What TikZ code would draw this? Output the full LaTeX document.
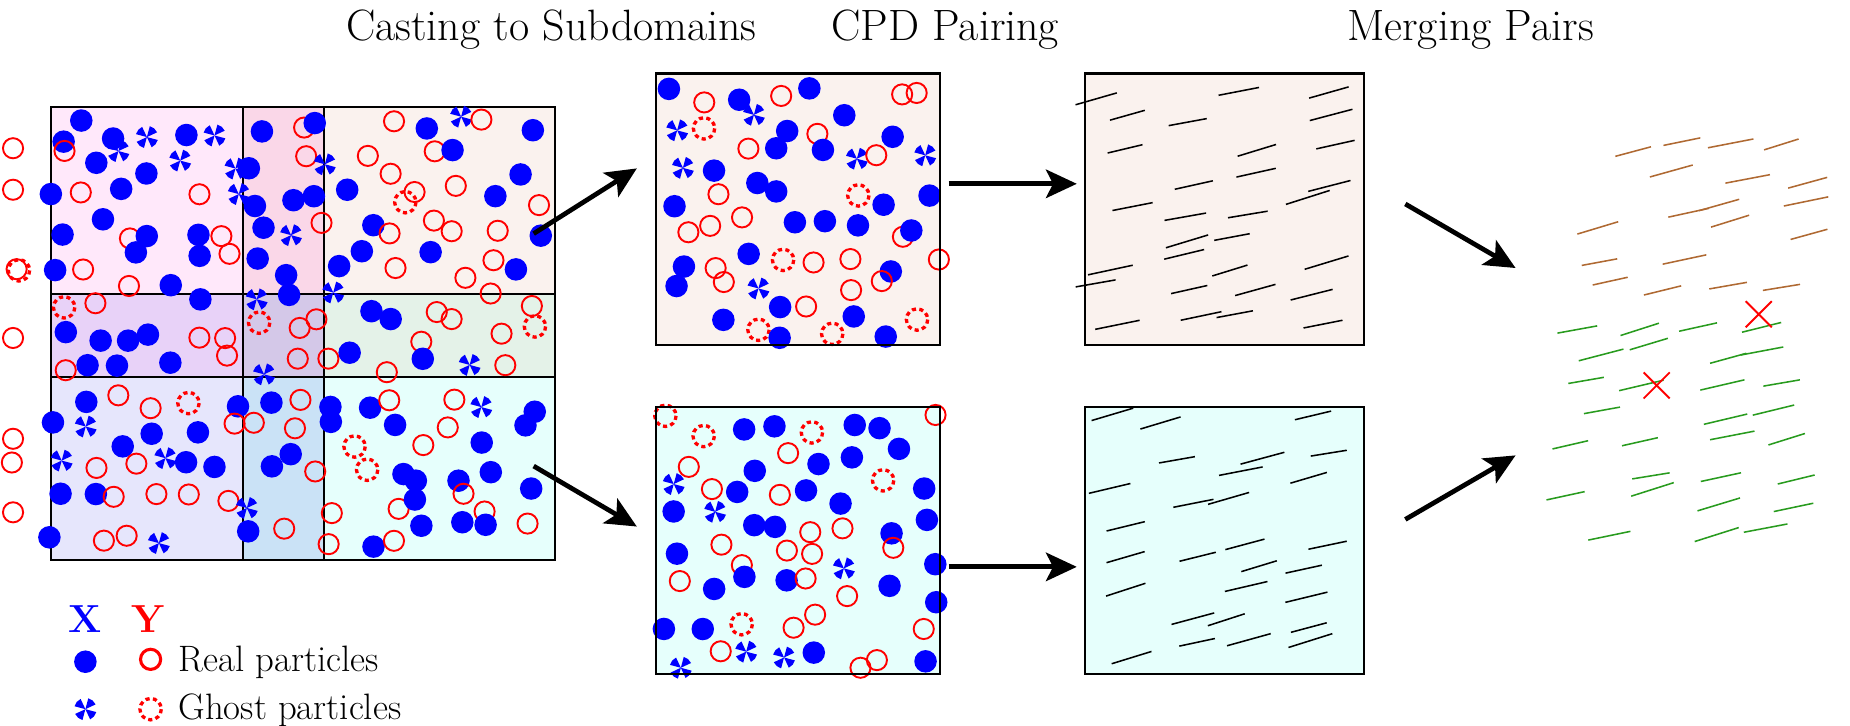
\documentclass[tikz,border=0pt]{standalone}
\usetikzlibrary{arrows.meta}
\definecolor{cA}{RGB}{255,232,250}
\definecolor{cB}{RGB}{250,215,232}
\definecolor{cC}{RGB}{250,242,238}
\definecolor{cD}{RGB}{232,210,248}
\definecolor{cE}{RGB}{212,200,232}
\definecolor{cF}{RGB}{228,242,232}
\definecolor{cG}{RGB}{230,230,252}
\definecolor{cH}{RGB}{202,226,246}
\definecolor{cI}{RGB}{230,255,252}
\definecolor{brn}{RGB}{175,105,50}
\definecolor{grn}{RGB}{40,155,30}
\newcommand\pRX[2]{\fill[blue] (#1,#2) circle (9.5);}
\newcommand\pRY[2]{\draw[red,line width=1.6] (#1,#2) circle (8.5);}
\newcommand\pGY[2]{\draw[red,line width=2.8,dash pattern=on 3.5 off 2.8] (#1,#2) circle (9);}
\newcommand\pGX[2]{\foreach \a in {0,90,180,270}{\fill[blue] (#1,#2) -- ++(\a+15:9.5) arc (\a+15:\a+65:9.5) -- cycle;}}
% jittered grid of particles: x0 nx dx y0 ny dy
\newcommand\pgrid[6]{%
  \foreach \i in {1,...,#2}{\foreach \j in {1,...,#5}{%
    \pgfmathsetmacro\px{#1+(\i-0.5)*#3+(rnd-0.5)*#3*0.8}%
    \pgfmathsetmacro\py{#4+(\j-0.5)*#6+(rnd-0.5)*#6*0.8}%
    \pgfmathsetmacro\t{rnd}%
    \ifdim\t pt<0.36pt \pRX{\px}{\py}\else
    \ifdim\t pt<0.76pt \pRY{\px}{\py}\else
    \ifdim\t pt<0.84pt \pGX{\px}{\py}\else
    \ifdim\t pt<0.91pt \pGY{\px}{\py}\fi\fi\fi\fi}}}
% jittered grid of segments: x0 nx dx y0 ny dy color
\newcommand\sgrid[7]{%
  \foreach \i in {1,...,#2}{\foreach \j in {1,...,#5}{%
    \pgfmathsetmacro\px{#1+(\i-1)*#3+(rnd-0.5)*#3*0.7}%
    \pgfmathsetmacro\py{#4+(\j-0.5)*#6+(rnd-0.5)*#6*0.7}%
    \pgfmathsetmacro\ang{-9-rnd*9}\pgfmathsetmacro\len{30+rnd*9}%
    \pgfmathsetmacro\t{rnd}%
    \ifdim\t pt<0.85pt \draw[#7,line width=1.3] (\px,\py) -- ++(\ang:\len);\fi}}}
\tikzset{boxline/.style={draw=black,line width=1.8},
 bigarrow/.style={line width=4,-{Stealth[length=26,width=24,inset=6]}},
 title/.style={font=\fontsize{37}{42}\selectfont,anchor=base},
 legend/.style={font=\fontsize{31}{36}\selectfont,anchor=base west}}
\begin{document}
\begin{tikzpicture}[x=1pt,y=-1pt]
\useasboundingbox (0,0) rectangle (1560,612);
\pgfmathsetseed{11}
% titles
\node[title] (t1) at (465,34) {Casting to Subdomains};
\node[title] (t2) at (797,34) {CPD Pairing};
\node[title] (t3) at (1240,34) {Merging Pairs};
% left grid fills
\fill[cA] (43,90) rectangle (205,248);
\fill[cB] (205,90) rectangle (273,248);
\fill[cC] (273,90) rectangle (468,248);
\fill[cD] (43,248) rectangle (205,318);
\fill[cE] (205,248) rectangle (273,318);
\fill[cF] (273,248) rectangle (468,318);
\fill[cG] (43,318) rectangle (205,472);
\fill[cH] (205,318) rectangle (273,472);
\fill[cI] (273,318) rectangle (468,472);
\draw[boxline] (43,90) rectangle (468,472);
\draw[boxline] (205,90) -- (205,472) (273,90) -- (273,472) (43,248) -- (468,248) (43,318) -- (468,318);
\pgrid{36}{15}{28.2}{95}{13}{28.5}
\foreach \yy in {125,160,285,370,432}{\pRY{11}{\yy}}
\pRY{10}{390}\pRY{14}{227}\pGY{16}{228}
% middle boxes
\fill[cC] (553,62) rectangle (793,291);
\fill[cI] (553,343) rectangle (793,568);
\pgrid{555}{8}{30}{66}{8}{28}
\pgrid{555}{8}{30}{346}{8}{27.5}
\draw[boxline] (553,62) rectangle (793,291);
\draw[boxline] (553,343) rectangle (793,568);
% CPD boxes
\fill[cC] (915,62) rectangle (1150,291);
\fill[cI] (915,343) rectangle (1150,568);
\sgrid{925}{4}{56}{70}{9}{24}{black}
\sgrid{925}{4}{56}{348}{9}{24}{black}
\draw[boxline] (915,62) rectangle (1150,291);
\draw[boxline] (915,343) rectangle (1150,568);
% merged
\sgrid{1345}{4}{52}{115}{6}{24}{brn}
\sgrid{1322}{4}{54}{262}{8}{25}{grn}
\foreach \c in {(1483,265),(1397,325)}{\draw[red,line width=1.6] \c ++(-11,-11) -- ++(22,22) \c ++(-11,11) -- ++(22,-22);}
% arrows
\coordinate (a1) at (450,197); \coordinate (b1) at (537,142);
\coordinate (a2) at (450,393); \coordinate (b2) at (537,444);
\coordinate (a3) at (800,155); \coordinate (b3) at (908,155);
\coordinate (a4) at (800,478); \coordinate (b4) at (908,478);
\coordinate (a5) at (1185,172); \coordinate (b5) at (1278,226);
\coordinate (a6) at (1185,438); \coordinate (b6) at (1278,384);
\foreach \s/\e in {a1/b1,a2/b2,a3/b3,a4/b4,a5/b5,a6/b6}{\draw[bigarrow] (\s) -- (\e);}
% legend
\node[font=\fontsize{33}{36}\selectfont\bfseries,text=blue] (lx) at (72,522) {X};
\node[font=\fontsize{33}{36}\selectfont\bfseries,text=red] (ly) at (125,522) {Y};
\pRX{72}{558}\draw[red,line width=2.6] (127,556) circle (8.5);
\pGX{72}{598}\pGY{127}{598}
\node[legend] (l1) at (147,566) {Real particles};
\node[legend] (l2) at (147,607) {Ghost particles};
\end{tikzpicture}
\end{document}
